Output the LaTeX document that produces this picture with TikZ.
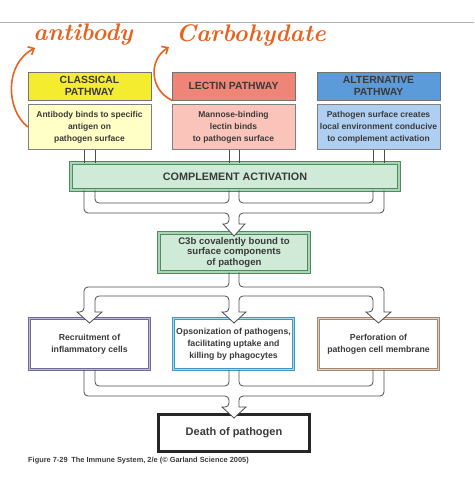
\documentclass[tikz,border=0pt]{standalone}
\usepackage{fontspec}
\setsansfont{Liberation Sans}
\usepackage{tikz}
\usetikzlibrary{arrows.meta,positioning}
\definecolor{classhead}{HTML}{F4EC2E}
\definecolor{classbody}{HTML}{FFFFC6}
\definecolor{lecthead}{HTML}{EF8577}
\definecolor{lectbody}{HTML}{FBC4BB}
\definecolor{althead}{HTML}{5C9BDA}
\definecolor{altbody}{HTML}{AECFF2}
\definecolor{greenfill}{HTML}{CFEBD7}
\definecolor{greenband}{HTML}{A6D6B4}
\definecolor{greenline}{HTML}{4F8A60}
\definecolor{purpline}{HTML}{6E6B98}
\definecolor{purpband}{HTML}{BDBADB}
\definecolor{blueline}{HTML}{3F98C0}
\definecolor{blueband}{HTML}{A9D8EC}
\definecolor{tanline}{HTML}{A38771}
\definecolor{tanband}{HTML}{E2D1C2}
\definecolor{inkgray}{HTML}{3A3A3A}
\definecolor{pen}{HTML}{E8621E}

\begin{document}
\begin{tikzpicture}[x=1pt, y=-1pt,
  head/.style={draw=black!55, minimum width=123pt, minimum height=28pt, inner sep=1pt,
    font=\sffamily\bfseries\fontsize{10.4}{12}\selectfont, text=inkgray, align=center},
  body/.style={draw=black!50, minimum width=123pt, minimum height=45pt, inner sep=1pt,
    font=\sffamily\bfseries\fontsize{8.5}{12}\selectfont, text=inkgray, align=center},
  stage/.style={draw=greenline, double=greenband, double distance=1.8pt, line width=0.8pt,
    fill=greenfill, inner sep=1pt, text=inkgray, align=center},
  effect/.style={line width=0.8pt, double distance=1.8pt, fill=white, minimum width=120pt,
    minimum height=51pt, inner sep=1pt, text=inkgray, align=center,
    font=\sffamily\bfseries\fontsize{8.7}{12}\selectfont},
  pipe/.style={draw=black!70, line width=0.8pt, rounded corners=4pt},
  note/.style={pen, line width=1.6pt, line cap=round},
  noteword/.style={text=pen, inner sep=0pt, font=\bfseries\itshape\fontsize{24}{24}\selectfont}
]
\useasboundingbox (0,0) rectangle (474,478);
\draw[black!30, line width=0.7pt] (0,22) -- (474,22);

% three pathways
\node[head, fill=classhead] (chead) at (89.5,86) {CLASSICAL\\PATHWAY};
\node[body, fill=classbody, below=4pt of chead] (cbody) {Antibody binds to specific\\antigen on\\pathogen surface};
\node[head, fill=lecthead] (lhead) at (233.5,86) {LECTIN PATHWAY};
\node[body, fill=lectbody, below=4pt of lhead] (lbody) {Mannose-binding\\lectin binds\\to pathogen surface};
\node[head, fill=althead] (ahead) at (378.5,86) {ALTERNATIVE\\PATHWAY};
\node[body, fill=altbody, below=4pt of ahead] (abody) {Pathogen surface creates\\local environment conducive\\to complement activation};

\node[stage, minimum width=328pt, minimum height=27pt,
  font=\sffamily\bfseries\fontsize{10.8}{11.5}\selectfont] (compl) at (235,176.5) {COMPLEMENT ACTIVATION};
\node[stage, minimum width=150pt, minimum height=39pt,
  font=\sffamily\bfseries\fontsize{9.6}{10.6}\selectfont] (cthree) at (234,252.5) {C3b covalently bound to\\surface components\\of pathogen};

% outcomes
\node[effect, draw=purpline, double=purpband] (recruit) at (89.5,344) {Recruitment of\\inflammatory cells};
\node[effect, draw=blueline, double=blueband] (opson) at (233.5,344) {Opsonization of pathogens,\\facilitating uptake and\\killing by phagocytes};
\node[effect, draw=tanline, double=tanband] (perf) at (378.5,344) {Perforation of\\pathogen cell membrane};
\node[draw=black!85, line width=3pt, fill=white, minimum width=151pt, minimum height=37pt,
  font=\sffamily\bfseries\fontsize{11}{12}\selectfont, text=inkgray] (death) at (234,433) {Death of pathogen};

% pathways into complement activation
\foreach \px/\src in {84/cbody, 95/cbody, 229/lbody, 239/lbody, 373/abody, 384/abody}
  \draw[pipe] (\px,0 |- \src.south) -- (\px,0 |- compl.north);

% complement activation to C3b
\draw[pipe] (95,0 |- compl.south) -- (95,203) -- (229,203) -- (229,0 |- compl.south);
\draw[pipe] (239,0 |- compl.south) -- (239,203) -- (373,203) -- (373,0 |- compl.south);
\fill[white] (223,224) -- (234,236) -- (245,224) -- cycle;
\draw[pipe] (84,0 |- compl.south) -- (84,213) -- (229,213) -- (229,224)
  [sharp corners] -- (223,224) -- (234,236) -- (245,224) -- (239,224)
  [rounded corners=4pt] -- (239,213) -- (384,213) -- (384,0 |- compl.south);

% C3b to the three outcomes
\fill[white] (77,312) -- (89.5,323) -- (102,312) -- cycle;
\fill[white] (222,312) -- (234,323) -- (246,312) -- cycle;
\fill[white] (366,312) -- (378.5,323) -- (391,312) -- cycle;
\draw[pipe] (229,0 |- cthree.south) -- (229,287) -- (84,287) -- (84,312)
  [sharp corners] -- (77,312) -- (89.5,323) -- (102,312) -- (95,312)
  [rounded corners=4pt] -- (95,296) -- (229,296) -- (229,312)
  [sharp corners] -- (222,312) -- (234,323) -- (246,312) -- (239,312)
  [rounded corners=4pt] -- (239,296) -- (373,296) -- (373,312)
  [sharp corners] -- (366,312) -- (378.5,323) -- (391,312) -- (384,312)
  [rounded corners=4pt] -- (384,287) -- (239,287) -- (239,0 |- cthree.south);

% outcomes to death of pathogen
\draw[pipe] (95,0 |- recruit.south) -- (95,386) -- (229,386) -- (229,0 |- opson.south);
\draw[pipe] (239,0 |- opson.south) -- (239,386) -- (373,386) -- (373,0 |- perf.south);
\fill[white] (222,407) -- (234,418) -- (246,407) -- cycle;
\draw[pipe] (84,0 |- recruit.south) -- (84,396) -- (229,396) -- (229,407)
  [sharp corners] -- (222,407) -- (234,418) -- (246,407) -- (239,407)
  [rounded corners=4pt] -- (239,396) -- (384,396) -- (384,0 |- perf.south);

\node[anchor=west, inner sep=0pt, text=inkgray,
  font=\sffamily\bfseries\fontsize{7.4}{8}\selectfont] (caption) at (28,461)
  {Figure 7-29\enspace The Immune System, 2/e (© Garland Science 2005)};

% handwritten notes
\node[noteword] (antinote) at (83,35) {antibody};
\node[noteword] (carbnote) at (251,35) {Carbohydate};
\draw[note, -{Straight Barb[length=5pt, width=9pt]}] (cbody.west)
  .. controls (6,110) and (4,64) .. ([xshift=2pt, yshift=-2pt]antinote.south west);
\draw[note, -{Straight Barb[length=5pt, width=9pt]}] (lhead.south west)
  .. controls (150,90) and (148,60) .. ([xshift=-7pt, yshift=-1pt]carbnote.south west);
\end{tikzpicture}
\end{document}
